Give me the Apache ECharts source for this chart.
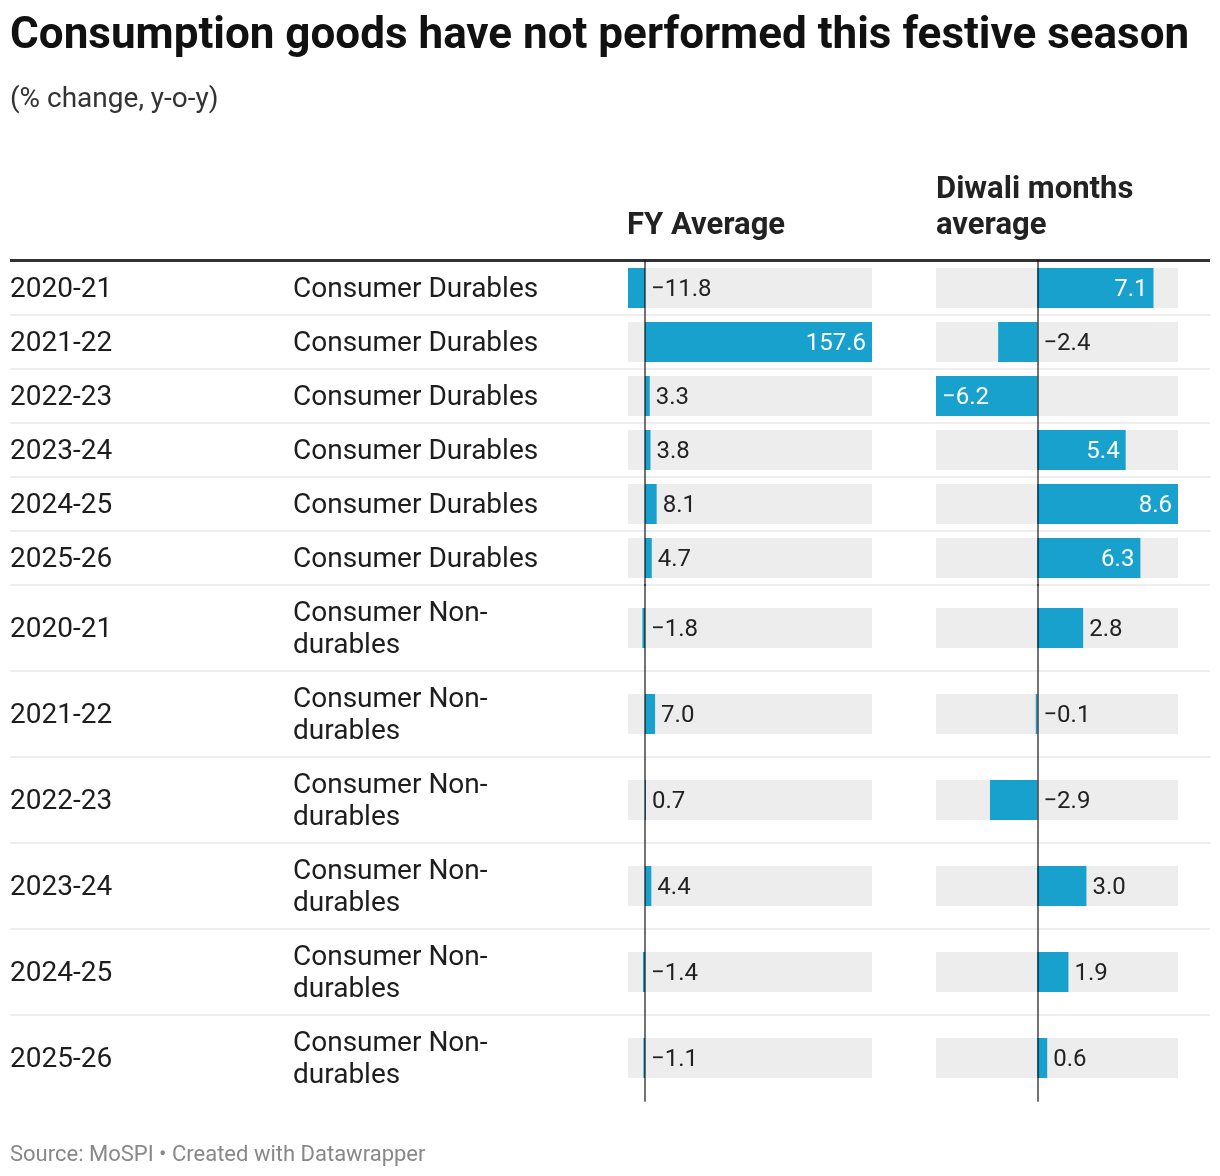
<!DOCTYPE html>
<html>
<head>
<meta charset="utf-8">
<script src="https://cdn.jsdelivr.net/npm/echarts@6/dist/echarts.min.js"></script>
<style>
  html, body { margin: 0; padding: 0; background: #fff; }
  #chart { width: 1220px; height: 1176px; }
</style>
</head>
<body>
<div id="chart"></div>
<script>
// data
var years = ['2020-21', '2021-22', '2022-23', '2023-24', '2024-25', '2025-26'];
var groups = ['Consumer Durables', 'Consumer Non-durables'];
var fyDurables = [-11.8, 157.6, 3.3, 3.8, 8.1, 4.7];
var fyNonDurables = [-1.8, 7.0, 0.7, 4.4, -1.4, -1.1];
var diwaliDurables = [7.1, -2.4, -6.2, 5.4, 8.6, 6.3];
var diwaliNonDurables = [2.8, -0.1, -2.9, 3.0, 1.9, 0.6];
var columnTitles = ['FY Average', 'Diwali months\naverage'];

var FONT = 'Roboto, "Noto Sans", sans-serif';
var BLUE = '#18a1cd';

var fyAll = fyDurables.concat(fyNonDurables);
var dwAll = diwaliDurables.concat(diwaliNonDurables);
var fyRange = [Math.min.apply(null, fyAll), Math.max.apply(null, fyAll)];
var dwRange = [Math.min.apply(null, dwAll), Math.max.apply(null, dwAll)];

// layout
var tableTop = 260, shortRow = 54, tallRow = 86;
var col1 = { left: 628, width: 244 }, col2 = { left: 936, width: 242 };
var blockTop = [tableTop + 1, tableTop + 1 + shortRow * 6];
var blockH = [shortRow * 6, tallRow * 6];

function fmt(v) {
    return (v < 0 ? '\u2212' : '') + Math.abs(v).toFixed(1);
}

// label inside the bar when the bar is long enough
function items(vals, range) {
    var span = range[1] - range[0];
    return vals.map(function (v) {
        var inside = Math.abs(v) / span > 0.25;
        return {
            value: v,
            label: {
                position: inside ? (v < 0 ? 'insideLeft' : 'insideRight') : 'right',
                color: inside ? '#fff' : '#222'
            }
        };
    });
}

var grids = [], xAxes = [], yAxes = [], series = [];
[0, 1].forEach(function (b) {
    [col1, col2].forEach(function (c, ci) {
        var gi = grids.length;
        grids.push({ left: c.left, width: c.width, top: blockTop[b], height: blockH[b] });
        var range = ci === 0 ? fyRange : dwRange;
        xAxes.push({ gridIndex: gi, type: 'value', min: range[0], max: range[1], show: false });
        var yi = yAxes.length;
        yAxes.push({
            gridIndex: gi, type: 'category', data: years, inverse: true, z: 5,
            axisLine: { show: true, onZero: true, lineStyle: { color: '#000', opacity: 0.55, width: 2 } },
            axisTick: { show: false }, axisLabel: { show: false }, splitLine: { show: false }
        });
        var vals = b === 0 ? (ci === 0 ? fyDurables : diwaliDurables) : (ci === 0 ? fyNonDurables : diwaliNonDurables);
        series.push({
            type: 'bar', xAxisIndex: gi, yAxisIndex: yi, barWidth: 40,
            showBackground: true, backgroundStyle: { color: '#ededed' },
            itemStyle: { color: BLUE },
            label: { show: true, distance: 6, fontSize: 24, fontFamily: FONT, offset: [0, 2],
                formatter: function (p) { return fmt(p.value); } },
            data: items(vals, range)
        });
    });
    // row labels (year, group) on their own grid, nudged to the text baseline
    var li = grids.length;
    grids.push({ left: col1.left, width: col1.width, top: blockTop[b] + 2, height: blockH[b] });
    xAxes.push({ gridIndex: li, type: 'value', show: false });
    yAxes.push({
        gridIndex: li, type: 'category', data: years, inverse: true, position: 'left',
        axisLine: { show: false, onZero: false }, axisTick: { show: false },
        axisLabel: { interval: 0, margin: col1.left - 10, align: 'left', fontSize: 28, fontFamily: FONT, color: '#1d1d1d' }
    });
    yAxes.push({
        gridIndex: li, type: 'category', data: years, inverse: true, position: 'left',
        axisLine: { show: false, onZero: false }, axisTick: { show: false },
        axisLabel: {
            interval: 0, margin: col1.left - 293, align: 'left', fontSize: 28, lineHeight: 32,
            fontFamily: FONT, color: '#1d1d1d',
            formatter: function () { return groups[b].replace('Non-', 'Non-\n'); }
        }
    });
});

var graphics = [
    { type: 'text', x: 10, y: 37, style: { text: 'Consumption goods have not performed this festive season', font: 'bold 44px ' + FONT, fill: '#111', verticalAlign: 'middle' } },
    { type: 'text', x: 10, y: 100, style: { text: '(% change, y-o-y)', font: '28px ' + FONT, fill: '#333', verticalAlign: 'middle' } },
    { type: 'text', x: col1.left - 1, y: 244, style: { text: columnTitles[0], font: 'bold 31px ' + FONT, fill: '#222', verticalAlign: 'bottom', lineHeight: 36 } },
    { type: 'text', x: col2.left, y: 244, style: { text: columnTitles[1], font: 'bold 31px ' + FONT, fill: '#222', verticalAlign: 'bottom', lineHeight: 36 } },
    { type: 'rect', shape: { x: 10, y: tableTop - 1, width: 1200, height: 3 }, style: { fill: '#333' } },
    { type: 'text', x: 10, y: 1155, style: { text: 'Source: MoSPI \u2022 Created with Datawrapper', font: '22px ' + FONT, fill: '#888', verticalAlign: 'middle' } }
];
// row separators
var sepY = tableTop;
for (var i = 0; i < 11; i++) {
    sepY += i < 6 ? shortRow : tallRow;
    graphics.push({ type: 'rect', z: -1, shape: { x: 10, y: sepY, width: 1200, height: 2 }, style: { fill: '#eeeeee' } });
}

var chart = echarts.init(document.getElementById('chart'));
chart.setOption({
    animation: false,
    grid: grids,
    xAxis: xAxes,
    yAxis: yAxes,
    series: series,
    graphic: graphics
});
</script>
</body>
</html>
